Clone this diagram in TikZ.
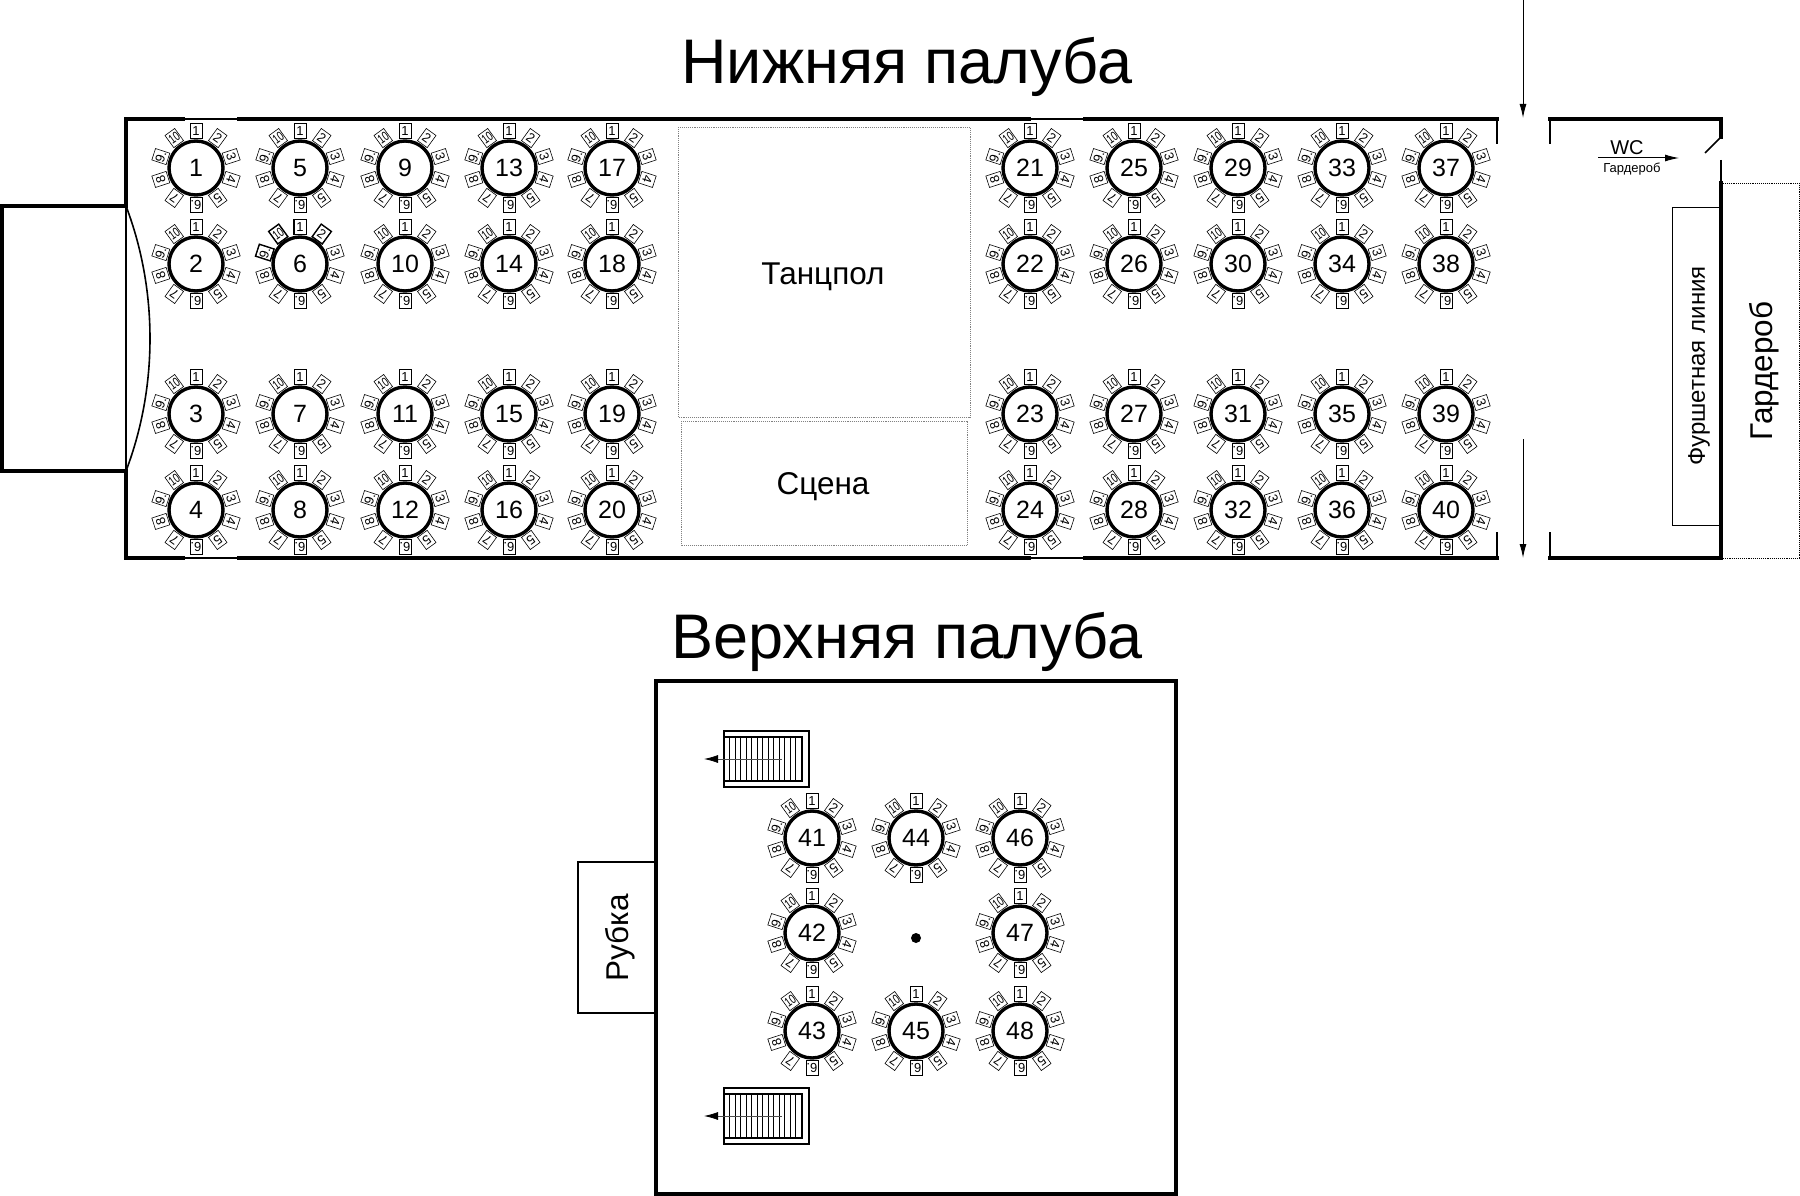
\documentclass[tikz,border=0pt]{standalone}
\usepackage{fontspec}
\setmainfont{Liberation Sans}
\usetikzlibrary{arrows.meta}
\tikzset{
  wall/.style={line width=3.6pt,line cap=rect},
  thinwall/.style={line width=1.4pt},
  zone/.style={gray,line width=0.9pt,densely dotted},
  dinner/.style={circle,draw,fill=white,line width=3.4pt,minimum size=54pt,inner sep=0pt,font=\fontsize{25}{25}\selectfont},
  seat/.style={draw,line width=0.6pt,fill=white,minimum width=12pt,minimum height=15pt,inner sep=0pt,font=\fontsize{13}{13}\selectfont},
  tip/.style={-{Latex[length=14pt,width=7pt]},line width=1pt},
  label/.style={font=\fontsize{31.5}{31.5}\selectfont},
  title/.style={font=\fontsize{63}{63}\selectfont},
}
% table with ten seats round it: x, y, number
\newcommand{\dtable}[3]{
  \node[dinner] (t#3) at (#1,#2) {#3};
  \foreach \k in {1,...,10} {
    \pgfmathsetmacro{\ang}{90-36*(\k-1)}
    \pgfmathsetmacro{\rot}{-36*(\k-1)}
    \node[seat,rotate=\rot] (t#3s\k) at ([shift={(\ang:37pt)}]t#3)
      {\ifnum\k=10 \scalebox{0.72}[1]{10}\else\ifnum\k=6 6.\else\ifnum\k=9 9.\else\k\fi\fi\fi};
  }
}
% stairs: top y, name
\newcommand{\stairs}[2]{
  \draw[line width=1.6pt] (724,#1) rectangle (809,#1+56);
  \draw[line width=1.3pt] (724,#1+6) rectangle (802,#1+50);
  \foreach \i in {1,...,13}
    \draw[line width=0.9pt] (724+5.5*\i,#1+6)--(724+5.5*\i,#1+50);
  \coordinate (#2a) at (782,#1+28);
  \coordinate (#2b) at (704,#1+28);
  \draw[-{Latex[length=14pt,width=8pt,black]},line width=0.8pt,black!70] (#2a)--(#2b);
}
\begin{document}
\begin{tikzpicture}[x=1pt,y=-1pt]
\useasboundingbox (0,0) rectangle (1800,1196);

%titles
\node[title] (lower) at (907,67) {Нижняя палуба};
\node[title] (upper) at (907,642) {Верхняя палуба};

%hull
\draw[wall] (126,206)--(126,119)--(183,119);
\draw[thinwall] (185,119)--(237,119);
\draw[wall] (239,119)--(1029,119);
\draw[thinwall] (1031,119)--(1083,119);
\draw[wall] (1085,119)--(1497,119);
\draw[line width=2pt] (1497,119)--(1497,144);
\draw[wall] (126,471)--(126,558)--(183,558);
\draw[thinwall] (185,558)--(237,558);
\draw[wall] (239,558)--(1029,558);
\draw[thinwall] (1031,558)--(1083,558);
\draw[wall] (1085,558)--(1497,558);
\draw[line width=2pt] (1497,558)--(1497,532);
\draw[thinwall] (126,206)--(126,471);
%bow
\draw[wall] (126,206)--(2,206)--(2,471)--(126,471);
\draw[line width=1.6pt] (126,206) .. controls (158,290) and (158,387) .. (126,471);

%stern
\draw[line width=2pt] (1550,144)--(1550,119);
\draw[wall] (1550,119)--(1721,119)--(1721,137);
\draw[line width=1.6pt] (1721,137)--(1705,153);
\draw[line width=1.4pt] (1721,160)--(1721,183);
\draw[wall] (1721,183)--(1721,558)--(1550,558);
\draw[line width=2pt] (1550,558)--(1550,532);
\draw[densely dotted,line width=0.9pt] (1723,183)--(1799,183)--(1799,558)--(1723,558);

%landing arrows
\coordinate (ina) at (1523,0);
\coordinate (inb) at (1523,118);
\coordinate (outa) at (1523,439);
\coordinate (outb) at (1523,558);
\draw[tip] (ina)--(inb);
\draw[tip] (outa)--(outb);
\coordinate (wca) at (1598,158);
\coordinate (wcb) at (1679,158);
\draw[tip] (wca)--(wcb);
\node[font=\fontsize{20}{20}\selectfont] (wc) at (1627,148) {WC};
\node[font=\fontsize{13}{13}\selectfont] (cloak) at (1632,169) {Гардероб};

%rooms
\draw[zone] (678,127) rectangle (970,417);
\draw[zone] (681,421) rectangle (967,545);
\node[label] (dance) at (823,277) {Танцпол};
\node[label] (stage) at (823,487) {Сцена};
\draw[line width=0.9pt] (1720,207)--(1672,207)--(1672,525)--(1720,525);
\node[rotate=90,font=\fontsize{24}{24}\selectfont] (buffet) at (1699,366) {Фуршетная линия};
\node[rotate=90,label] (wardrobe) at (1764,371) {Гардероб};

%tables lower deck
\newcount\tnum
\tnum=1
\foreach \x in {196,300,405,509,612,1030,1134,1238,1342,1446} {
  \foreach \y in {168,264,414,510} {
    \dtable{\x}{\y}{\the\tnum}
    \global\advance\tnum by 1
  }
}
%heavier seats at table 6
\foreach \k in {1,2,9,10}
  \draw[line width=1.3pt] (t6s\k.north west)--(t6s\k.north east)--(t6s\k.south east)--(t6s\k.south west)--cycle;

%upper deck
\draw[wall] (656,681) rectangle (1176,1194);
\draw[line width=2.6pt] (656,862)--(578,862)--(578,1013)--(656,1013);
\node[rotate=90,label] (bridge) at (620,938) {Рубка};
\stairs{731}{sa}
\stairs{1088}{sb}
\foreach \x/\y/\n in {812/838/41,812/933/42,812/1031/43,916/838/44,916/1031/45,1020/838/46,1020/933/47,1020/1031/48} {
  \dtable{\x}{\y}{\n}
}
\fill (916,938) circle (5pt);
\end{tikzpicture}
\end{document}
